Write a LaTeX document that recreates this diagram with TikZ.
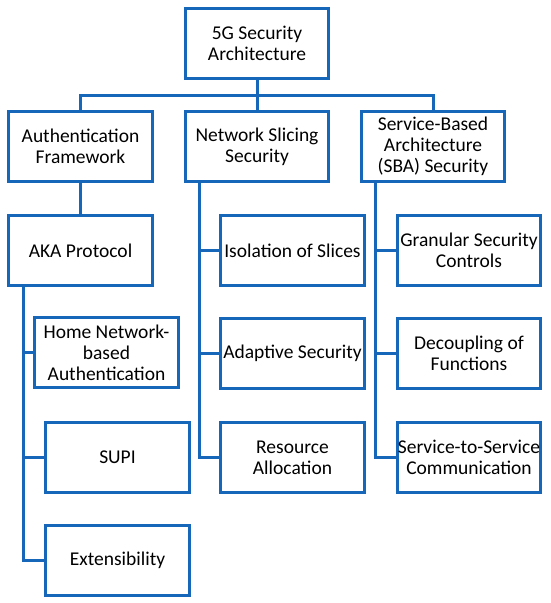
\documentclass[tikz,border=0pt]{standalone}
\usepackage{fontspec}
\setmainfont{Carlito}
\definecolor{boxblue}{RGB}{22,102,186}
\begin{document}
\begin{tikzpicture}[x=1pt,y=-1pt,
  box/.style={draw=boxblue,line width=3pt,rectangle,inner sep=0pt,align=center,
    minimum height=70pt,font=\fontsize{19.5}{21}\selectfont},
  w144/.style={minimum width=144pt},
  w143/.style={minimum width=143pt},
  conn/.style={draw=boxblue,line width=3pt}]
\useasboundingbox (0,0) rectangle (550,603);
\node[box,w143] (root) at (257,43.5) {5G Security\\Architecture};
\node[box,w144] (auth) at (80.5,146.5) {Authentication\\Framework};
\node[box,w143] (ns) at (257,146.5) {Network Slicing\\Security};
\node[box,w143] (sba) at (433,146.5) {Service-Based\\Architecture\\(SBA) Security};
\node[box,w144] (aka) at (80.5,250.5) {AKA Protocol};
\node[box,w144] (home) at (106.5,352.5) {Home Network-\\based\\Authentication};
\node[box,w144] (supi) at (117.5,457.5) {SUPI};
\node[box,w144] (ext) at (117.5,560.5) {Extensibility};
\node[box,w144] (iso) at (292.5,250.5) {Isolation of Slices};
\node[box,w144] (adapt) at (292.5,353.5) {Adaptive Security};
\node[box,w144] (res) at (292.5,457.5) {Resource\\Allocation};
\node[box,w143] (gran) at (469,250.5) {Granular Security\\Controls};
\node[box,w143] (dec) at (469,353.5) {Decoupling of\\Functions};
\node[box,w143] (s2s) at (469,457.5) {Service-to-Service\\Communication};
\coordinate (busy) at (0,95);
\coordinate (akx) at (23,0);
\coordinate (nsx) at (199,0);
\coordinate (sbax) at (375,0);
% top level
\draw[conn] (root.south) -- (ns.north);
\draw[conn] (auth.north) -- (auth.north |- busy) -- (sba.north |- busy) -- (sba.north);
\draw[conn] (auth.south) -- (aka.north);
% AKA branch
\draw[conn] (aka.south -| akx) |- (ext.west);
\draw[conn] (akx |- home.west) -- (home.west);
\draw[conn] (akx |- supi.west) -- (supi.west);
% NS branch
\draw[conn] (ns.south -| nsx) |- (res.west);
\draw[conn] (nsx |- iso.west) -- (iso.west);
\draw[conn] (nsx |- adapt.west) -- (adapt.west);
% SBA branch
\draw[conn] (sba.south -| sbax) |- (s2s.west);
\draw[conn] (sbax |- gran.west) -- (gran.west);
\draw[conn] (sbax |- dec.west) -- (dec.west);
\end{tikzpicture}
\end{document}
